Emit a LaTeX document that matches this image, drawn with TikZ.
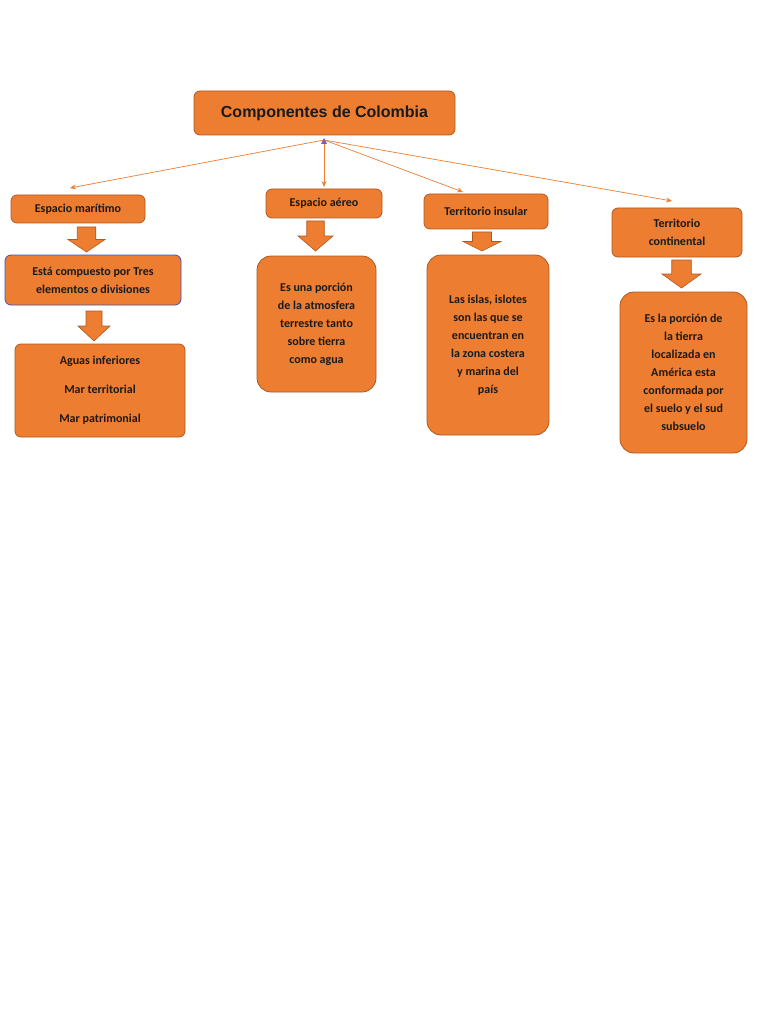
\documentclass[tikz,border=0pt]{standalone}
\usepackage{fontspec}
\setmainfont{Carlito}
\newfontfamily\arialf{Liberation Sans}
\usetikzlibrary{arrows.meta}
\definecolor{org}{HTML}{ED7D31}
\definecolor{orgd}{HTML}{B0591E}
\definecolor{txt}{HTML}{1A1A1A}
\begin{document}
\begin{tikzpicture}[x=1pt,y=-1pt,
  box/.style={draw=orgd,fill=org,rounded corners=6pt,line width=0.8pt,text=txt,font=\bfseries\fontsize{12}{18}\selectfont,align=center,inner sep=0pt},
  blk/.style={draw=orgd,fill=org,line width=0.6pt},
  con/.style={draw=org,line width=0.7pt,-{Stealth[length=6pt,width=5pt]}}]
\useasboundingbox (0,0) rectangle (768,1024);
\newcommand\blkarr[4]{% x center, y top, width, height
  \path[blk] (#1-#3/4,#2) -- (#1+#3/4,#2) -- (#1+#3/4,#2+#4*0.5) -- (#1+#3/2,#2+#4*0.5) -- (#1,#2+#4) -- (#1-#3/2,#2+#4*0.5) -- (#1-#3/4,#2+#4*0.5) -- cycle;}
\node[box,minimum width=261pt,minimum height=44pt,font=\arialf\bfseries\fontsize{16}{20}\selectfont] (t) at (324.5,113) {Componentes de Colombia};
\node[box,minimum width=134pt,minimum height=28pt] (m) at (78,209) {Espacio marítimo};
\node[box,minimum width=116pt,minimum height=29pt] (a) at (324,203.5) {Espacio aéreo};
\node[box,minimum width=124pt,minimum height=35pt] (i) at (486,211.5) {Territorio insular};
\node[box,minimum width=130pt,minimum height=49pt] (c) at (677,232.5) {Territorio\\continental};
\node[box,draw=blue!60!black!70,minimum width=176pt,minimum height=50pt] (m2) at (93,280) {Está compuesto por Tres\\elementos o divisiones};
\node[box,minimum width=170pt,minimum height=93pt,font=\bfseries\fontsize{12}{29}\selectfont] (m3) at (100,390.5) {Aguas inferiores\\Mar territorial\\Mar patrimonial};
\node[box,rounded corners=14pt,minimum width=119pt,minimum height=136pt] (a2) at (316.5,324) {Es una porción\\de la atmosfera\\terrestre tanto\\sobre tierra\\como agua};
\node[box,rounded corners=14pt,minimum width=122pt,minimum height=180pt] (i2) at (488,345) {Las islas, islotes\\son las que se\\encuentran en\\la zona costera\\y marina del\\país};
\node[box,rounded corners=14pt,minimum width=127pt,minimum height=161pt] (c2) at (683.5,372.5) {Es la porción de\\la tierra\\localizada en\\América esta\\conformada por\\el suelo y el sud\\subsuelo};
\coordinate (h) at (324,140);
\draw[con] (h) -- (70,188);
\draw[con] (h) -- (324,187);
\draw[con] (h) -- (463,192);
\draw[con] (h) -- (672,201);
\fill[blue!60!black!60] (324,138) -- (321,144) -- (327,144) -- cycle;
\blkarr{86.5}{227}{37}{25}
\blkarr{94}{311}{32}{30}
\blkarr{315.5}{221}{35}{30}
\blkarr{482}{232}{38}{19}
\blkarr{681.5}{260}{39}{28}
\end{tikzpicture}
\end{document}
